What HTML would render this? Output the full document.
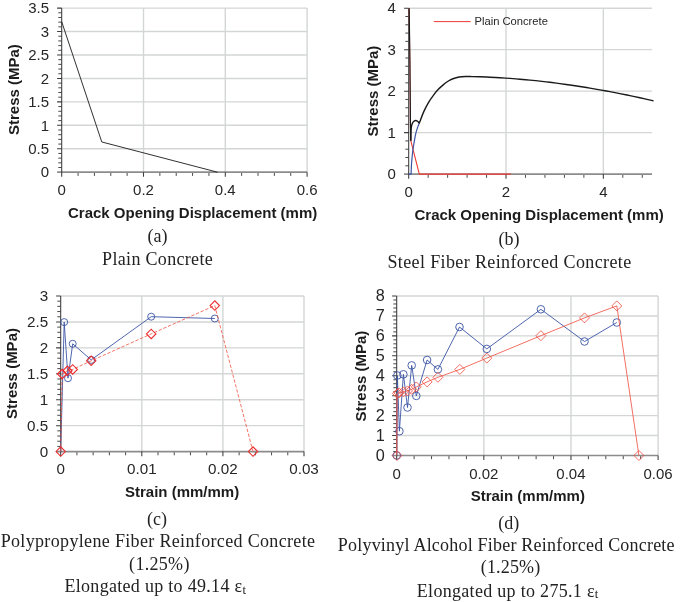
<!DOCTYPE html>
<html lang="en">
<head>
<meta charset="utf-8">
<title>Stress curves of concrete types</title>
<style>
html,body{margin:0;padding:0;background:#fff;}
body{width:685px;height:602px;overflow:hidden;}
svg{display:block;}
.tk{font-family:"Liberation Sans",Arial,Helvetica,sans-serif;fill:#262626;}
.ax{font-family:"Liberation Sans",Arial,Helvetica,sans-serif;font-size:15px;font-weight:bold;fill:#1c1c1c;}
.lg{font-family:"Liberation Sans",Arial,Helvetica,sans-serif;font-size:11.2px;fill:#262626;}
.cap{font-family:"Liberation Serif","Times New Roman",Times,serif;font-size:18px;fill:#222;text-anchor:middle;}
</style>
</head>
<body>
<svg width="685" height="602" viewBox="0 0 685 602">
<rect width="685" height="602" fill="#ffffff"/>

<!-- (a) Plain concrete -->
<path d="M61.7 148.76H307.1M61.7 125.31H307.1M61.7 101.87H307.1M61.7 78.43H307.1M61.7 54.99H307.1M61.7 31.54H307.1M61.7 8.1H307.1M143.5 8.1V172.2M225.3 8.1V172.2M307.1 8.1V172.2" stroke="#d4d6d6" stroke-width="1.4" fill="none"/>
<path d="M58.3 167.51H61.7M58.3 162.82H61.7M58.3 158.13H61.7M58.3 153.45H61.7M58.3 144.07H61.7M58.3 139.38H61.7M58.3 134.69H61.7M58.3 130H61.7M58.3 120.63H61.7M58.3 115.94H61.7M58.3 111.25H61.7M58.3 106.56H61.7M58.3 97.18H61.7M58.3 92.49H61.7M58.3 87.81H61.7M58.3 83.12H61.7M58.3 73.74H61.7M58.3 69.05H61.7M58.3 64.36H61.7M58.3 59.67H61.7M58.3 50.3H61.7M58.3 45.61H61.7M58.3 40.92H61.7M58.3 36.23H61.7M58.3 26.85H61.7M58.3 22.17H61.7M58.3 17.48H61.7M58.3 12.79H61.7M78.06 172.2V175.9M94.42 172.2V175.9M110.78 172.2V175.9M127.14 172.2V175.9M159.86 172.2V175.9M176.22 172.2V175.9M192.58 172.2V175.9M208.94 172.2V175.9M241.66 172.2V175.9M258.02 172.2V175.9M274.38 172.2V175.9M290.74 172.2V175.9" stroke="#4a4a4a" stroke-width="1" fill="none"/>
<path d="M57.1 172.2H307.1" stroke="#8c8c8c" stroke-width="1.7" fill="none"/>
<path d="M61.7 8.1V176.8M57.1 148.76H61.7M57.1 125.31H61.7M57.1 101.87H61.7M57.1 78.43H61.7M57.1 54.99H61.7M57.1 31.54H61.7M57.1 8.1H61.7M61.7 172.2V176.8M143.5 172.2V176.8M225.3 172.2V176.8M307.1 172.2V176.8" stroke="#3c3c3c" stroke-width="1.05" fill="none"/>
<g class="tk" font-size="15" text-anchor="end">
<text x="49.1" y="177.4">0</text>
<text x="49.1" y="153.96">0.5</text>
<text x="49.1" y="130.51">1</text>
<text x="49.1" y="107.07">1.5</text>
<text x="49.1" y="83.63">2</text>
<text x="49.1" y="60.19">2.5</text>
<text x="49.1" y="36.74">3</text>
<text x="49.1" y="13.3">3.5</text>
</g>
<g class="tk" font-size="15" text-anchor="middle">
<text x="61.7" y="194.9">0</text>
<text x="143.5" y="194.9">0.2</text>
<text x="225.3" y="194.9">0.4</text>
<text x="307.1" y="194.9">0.6</text>
</g>
<path d="M61.7 21.7L101.78 141.96L217.53 172.2" stroke="#1a1a1a" stroke-width="0.9" fill="none" stroke-linejoin="round"/>
<text class="ax" x="68" y="218">Crack Opening Displacement (mm)</text>
<text class="ax" transform="translate(18.9 135) rotate(-90)">Stress (MPa)</text>
<text class="cap" x="157.4" y="242">(a)</text>
<text class="cap" x="157.6" y="265.2" letter-spacing="0.32">Plain Concrete</text>
<!-- (b) Steel fiber -->
<path d="M408.7 132.62H652M408.7 91.15H652M408.7 49.67H652M408.7 8.2H652M506.02 8.2V174.1M603.34 8.2V174.1" stroke="#d4d6d6" stroke-width="1.4" fill="none"/>
<path d="M405.3 165.81H408.7M405.3 157.51H408.7M405.3 149.22H408.7M405.3 140.92H408.7M405.3 124.33H408.7M405.3 116.03H408.7M405.3 107.74H408.7M405.3 99.44H408.7M405.3 82.85H408.7M405.3 74.56H408.7M405.3 66.26H408.7M405.3 57.97H408.7M405.3 41.38H408.7M405.3 33.08H408.7M405.3 24.79H408.7M405.3 16.5H408.7M428.16 174.1V177.8M447.63 174.1V177.8M467.09 174.1V177.8M486.56 174.1V177.8M525.48 174.1V177.8M544.95 174.1V177.8M564.41 174.1V177.8M583.88 174.1V177.8M622.8 174.1V177.8M642.27 174.1V177.8" stroke="#4a4a4a" stroke-width="1" fill="none"/>
<path d="M404.1 174.1H652" stroke="#8c8c8c" stroke-width="1.7" fill="none"/>
<path d="M408.7 8.2V178.7M404.1 132.62H408.7M404.1 91.15H408.7M404.1 49.67H408.7M404.1 8.2H408.7M408.7 174.1V178.7M506.02 174.1V178.7M603.34 174.1V178.7" stroke="#3c3c3c" stroke-width="1.05" fill="none"/>
<g class="tk" font-size="15" text-anchor="end">
<text x="395.9" y="179.3">0</text>
<text x="395.9" y="137.82">1</text>
<text x="395.9" y="96.35">2</text>
<text x="395.9" y="54.87">3</text>
<text x="395.9" y="13.4">4</text>
</g>
<g class="tk" font-size="15" text-anchor="middle">
<text x="408.7" y="197.3">0</text>
<text x="506.02" y="197.3">2</text>
<text x="603.34" y="197.3">4</text>
</g>
<path d="M409.1 8.2L409.9 60.2L410.4 126.8L410.8 140.7" stroke="#f03a34" stroke-width="0.8" fill="none"/>
<path d="M410.8 140.7L419.3 174.1L510.9 174.1" stroke="#f03a34" stroke-width="1.1" fill="none" stroke-linejoin="round"/>
<path d="M408.7 174.1L411.1 174.1L411.1 174.1C411.18 172.2 411.37 166.15 411.6 162.7C411.83 159.25 412.23 155.85 412.5 153.4C412.77 150.95 412.87 150.22 413.2 148C413.53 145.78 414.07 142.53 414.5 140.1C414.93 137.67 415.28 135.52 415.8 133.4C416.32 131.28 417.02 129.12 417.6 127.4C418.18 125.68 419.02 123.82 419.3 123.1" stroke="#3b55a5" stroke-width="1.2" fill="none" stroke-linejoin="round"/>
<path d="M409.2 8.2L409.9 60.2L410.5 126.8L410.8 140.7" stroke="#1a1a1a" stroke-width="1.15" fill="none"/>
<path d="M410.8 140.7C410.83 139.28 410.9 134.52 411 132.2C411.1 129.88 411.18 128.25 411.4 126.8C411.62 125.35 411.88 124.43 412.3 123.5C412.72 122.57 413.32 121.7 413.9 121.2C414.48 120.7 415.2 120.5 415.8 120.5C416.4 120.5 416.92 120.77 417.5 121.2C418.08 121.63 419 122.78 419.3 123.1L419.3 123.1C420.07 121.15 422.35 114.87 423.9 111.4C425.45 107.93 427.02 104.98 428.6 102.3C430.18 99.62 431.82 97.42 433.4 95.3C434.98 93.18 436.52 91.3 438.1 89.6C439.68 87.9 441.32 86.45 442.9 85.1C444.48 83.75 446.03 82.52 447.6 81.5C449.17 80.48 450.72 79.67 452.3 79C453.88 78.33 455.52 77.87 457.1 77.5C458.68 77.12 460.38 76.92 461.8 76.75C463.22 76.58 463.92 76.52 465.6 76.49C467.28 76.46 469.52 76.54 471.9 76.59C474.28 76.65 476.9 76.71 479.9 76.81C482.9 76.91 486.57 77.05 489.9 77.2C493.23 77.36 496.57 77.53 499.9 77.73C503.23 77.93 506.57 78.15 509.9 78.39C513.23 78.63 516.57 78.89 519.9 79.18C523.23 79.46 526.57 79.77 529.9 80.09C533.23 80.42 536.57 80.77 539.9 81.13C543.23 81.5 546.57 81.89 549.9 82.3C553.23 82.7 556.57 83.13 559.9 83.58C563.23 84.02 566.57 84.49 569.9 84.97C573.23 85.46 576.57 85.96 579.9 86.49C583.23 87.01 586.57 87.55 589.9 88.11C593.23 88.67 596.57 89.24 599.9 89.84C603.23 90.43 606.57 91.05 609.9 91.68C613.23 92.31 616.57 92.96 619.9 93.62C623.23 94.28 626.57 94.96 629.9 95.66C633.23 96.36 637.07 97.19 639.9 97.8C642.73 98.42 644.62 98.84 646.9 99.36C649.18 99.87 652.48 100.64 653.6 100.89" stroke="#1a1a1a" stroke-width="1.4" fill="none" stroke-linejoin="round"/>
<path d="M433.8 21.6H470.7" stroke="#f03a34" stroke-width="1"/>
<text class="lg" x="474.5" y="25">Plain Concrete</text>
<text class="ax" x="414.5" y="220">Crack Opening Displacement (mm)</text>
<text class="ax" transform="translate(378.2 136.5) rotate(-90)">Stress (MPa)</text>
<text class="cap" x="509" y="244.7">(b)</text>
<text class="cap" x="509.5" y="267.7" letter-spacing="0.38">Steel Fiber Reinforced Concrete</text>
<!-- (c) Polypropylene -->
<path d="M60.7 425.67H304M60.7 399.73H304M60.7 373.8H304M60.7 347.87H304M60.7 321.93H304M60.7 296H304M141.8 296V451.6M222.9 296V451.6M304 296V451.6" stroke="#d4d6d6" stroke-width="1.4" fill="none"/>
<path d="M57.3 446.41H60.7M57.3 441.23H60.7M57.3 436.04H60.7M57.3 430.85H60.7M57.3 420.48H60.7M57.3 415.29H60.7M57.3 410.11H60.7M57.3 404.92H60.7M57.3 394.55H60.7M57.3 389.36H60.7M57.3 384.17H60.7M57.3 378.99H60.7M57.3 368.61H60.7M57.3 363.43H60.7M57.3 358.24H60.7M57.3 353.05H60.7M57.3 342.68H60.7M57.3 337.49H60.7M57.3 332.31H60.7M57.3 327.12H60.7M57.3 316.75H60.7M57.3 311.56H60.7M57.3 306.37H60.7M57.3 301.19H60.7M76.92 451.6V455.3M93.14 451.6V455.3M109.36 451.6V455.3M125.58 451.6V455.3M158.02 451.6V455.3M174.24 451.6V455.3M190.46 451.6V455.3M206.68 451.6V455.3M239.12 451.6V455.3M255.34 451.6V455.3M271.56 451.6V455.3M287.78 451.6V455.3" stroke="#4a4a4a" stroke-width="1" fill="none"/>
<path d="M56.1 451.6H304" stroke="#8c8c8c" stroke-width="1.7" fill="none"/>
<path d="M60.7 296V456.2M56.1 425.67H60.7M56.1 399.73H60.7M56.1 373.8H60.7M56.1 347.87H60.7M56.1 321.93H60.7M56.1 296H60.7M60.7 451.6V456.2M141.8 451.6V456.2M222.9 451.6V456.2M304 451.6V456.2" stroke="#3c3c3c" stroke-width="1.05" fill="none"/>
<g class="tk" font-size="15.2" text-anchor="end">
<text x="48.1" y="456.8">0</text>
<text x="48.1" y="430.87">0.5</text>
<text x="48.1" y="404.93">1</text>
<text x="48.1" y="379">1.5</text>
<text x="48.1" y="353.07">2</text>
<text x="48.1" y="327.13">2.5</text>
<text x="48.1" y="301.2">3</text>
</g>
<g class="tk" font-size="15.2" text-anchor="middle">
<text x="60.7" y="473.7">0</text>
<text x="141.8" y="473.7">0.01</text>
<text x="222.9" y="473.7">0.02</text>
<text x="304" y="473.7">0.03</text>
</g>
<g stroke="#3b55a5" stroke-width="0.9" fill="none"><path d="M60.7 451.6L64.2 322.1L68 378.2L72.7 343.8L91.2 359.9L151.2 316.7L214.8 318.5"/><circle cx="64.2" cy="322.1" r="3.5"/><circle cx="68" cy="378.2" r="3.5"/><circle cx="72.7" cy="343.8" r="3.5"/><circle cx="91.2" cy="359.9" r="3.5"/><circle cx="151.2" cy="316.7" r="3.5"/><circle cx="214.8" cy="318.5" r="3.5"/></g>
<path d="M60.7 451.6L62.1 374L67.4 370.8L72.7 369.4L91.2 360.8L151.2 333.9L214.8 305.6L253 451.6" stroke="#f0523f" stroke-width="0.8" stroke-dasharray="3.4 1.7" fill="none"/>
<g stroke="#ea2c2e" stroke-width="1.1" fill="none"><path d="M56 451.6L60.7 446.9L65.4 451.6L60.7 456.3Z"/><path d="M57.4 374L62.1 369.3L66.8 374L62.1 378.7Z"/><path d="M62.7 370.8L67.4 366.1L72.1 370.8L67.4 375.5Z"/><path d="M68 369.4L72.7 364.7L77.4 369.4L72.7 374.1Z"/><path d="M86.5 360.8L91.2 356.1L95.9 360.8L91.2 365.5Z"/><path d="M146.5 333.9L151.2 329.2L155.9 333.9L151.2 338.6Z"/><path d="M210.1 305.6L214.8 300.9L219.5 305.6L214.8 310.3Z"/><path d="M248.3 451.6L253 446.9L257.7 451.6L253 456.3Z"/></g>
<text class="ax" x="125" y="497">Strain (mm/mm)</text>
<text class="ax" transform="translate(17.3 418.9) rotate(-90)">Stress (MPa)</text>
<text class="cap" x="156.9" y="525">(c)</text>
<text class="cap" x="158" y="547" letter-spacing="0.34">Polypropylene Fiber Reinforced Concrete</text>
<text class="cap" x="159.4" y="569.6" letter-spacing="0.3">(1.25%)</text>
<text class="cap" x="155.3" y="592.3" letter-spacing="0.3">Elongated up to 49.14 ε<tspan font-size="12.5" dy="1.5">t</tspan></text>
<!-- (d) PVA -->
<path d="M396.7 435.56H658.1M396.7 415.62H658.1M396.7 395.69H658.1M396.7 375.75H658.1M396.7 355.81H658.1M396.7 335.88H658.1M396.7 315.94H658.1M396.7 296H658.1M483.83 296V455.5M570.97 296V455.5M658.1 296V455.5" stroke="#d4d6d6" stroke-width="1.4" fill="none"/>
<path d="M393.3 451.51H396.7M393.3 447.52H396.7M393.3 443.54H396.7M393.3 439.55H396.7M393.3 431.57H396.7M393.3 427.59H396.7M393.3 423.6H396.7M393.3 419.61H396.7M393.3 411.64H396.7M393.3 407.65H396.7M393.3 403.66H396.7M393.3 399.68H396.7M393.3 391.7H396.7M393.3 387.71H396.7M393.3 383.73H396.7M393.3 379.74H396.7M393.3 371.76H396.7M393.3 367.77H396.7M393.3 363.79H396.7M393.3 359.8H396.7M393.3 351.82H396.7M393.3 347.84H396.7M393.3 343.85H396.7M393.3 339.86H396.7M393.3 331.89H396.7M393.3 327.9H396.7M393.3 323.91H396.7M393.3 319.93H396.7M393.3 311.95H396.7M393.3 307.96H396.7M393.3 303.98H396.7M393.3 299.99H396.7M414.13 455.5V459.2M431.55 455.5V459.2M448.98 455.5V459.2M466.41 455.5V459.2M501.26 455.5V459.2M518.69 455.5V459.2M536.11 455.5V459.2M553.54 455.5V459.2M588.39 455.5V459.2M605.82 455.5V459.2M623.25 455.5V459.2M640.67 455.5V459.2" stroke="#4a4a4a" stroke-width="1" fill="none"/>
<path d="M392.1 455.5H658.1" stroke="#8c8c8c" stroke-width="1.7" fill="none"/>
<path d="M396.7 296V460.1M392.1 435.56H396.7M392.1 415.62H396.7M392.1 395.69H396.7M392.1 375.75H396.7M392.1 355.81H396.7M392.1 335.88H396.7M392.1 315.94H396.7M392.1 296H396.7M396.7 455.5V460.1M483.83 455.5V460.1M570.97 455.5V460.1M658.1 455.5V460.1" stroke="#3c3c3c" stroke-width="1.05" fill="none"/>
<g class="tk" font-size="16.2" text-anchor="end">
<text x="384.8" y="460.7">0</text>
<text x="384.8" y="440.76">1</text>
<text x="384.8" y="420.82">2</text>
<text x="384.8" y="400.89">3</text>
<text x="384.8" y="380.95">4</text>
<text x="384.8" y="361.01">5</text>
<text x="384.8" y="341.07">6</text>
<text x="384.8" y="321.14">7</text>
<text x="384.8" y="301.2">8</text>
</g>
<g class="tk" font-size="15" text-anchor="middle">
<text x="396.7" y="478.7">0</text>
<text x="483.83" y="478.7">0.02</text>
<text x="570.97" y="478.7">0.04</text>
<text x="658.1" y="478.7">0.06</text>
</g>
<g stroke="#3b55a5" stroke-width="0.9" fill="none"><path d="M396.75 455.5L397.35 375.5L399.4 431.2L403.4 374.3L407.5 407.5L411.7 365.4L416.3 395.9L427.1 360L437.9 369.4L459.5 327L486.8 348.9L540.9 309.3L584.5 341.5L616.8 322.5"/><circle cx="396.75" cy="455.5" r="3.8"/><circle cx="397.35" cy="375.5" r="3.8"/><circle cx="399.4" cy="431.2" r="3.8"/><circle cx="403.4" cy="374.3" r="3.8"/><circle cx="407.5" cy="407.5" r="3.8"/><circle cx="411.7" cy="365.4" r="3.8"/><circle cx="416.3" cy="395.9" r="3.8"/><circle cx="427.1" cy="360" r="3.8"/><circle cx="437.9" cy="369.4" r="3.8"/><circle cx="459.5" cy="327" r="3.8"/><circle cx="486.8" cy="348.9" r="3.8"/><circle cx="540.9" cy="309.3" r="3.8"/><circle cx="584.5" cy="341.5" r="3.8"/><circle cx="616.8" cy="322.5" r="3.8"/></g>
<path d="M396.75 455.5L397 393.5" stroke="#ee5a50" stroke-width="1.05" fill="none"/>
<g stroke="#f04a3c" stroke-width="0.8" fill="none"><path d="M397.4 393.5L399 392.9L403.4 391.9L407.5 390.9L411.7 389.3L416.3 386.9L427.1 381.9L437.9 377.3L459.8 369.4L486.8 358.1L540.9 335.7L584.5 317.9L616.8 305.9L638.9 455.5"/><path d="M392 455.5L397 450.5L402 455.5L397 460.5Z"/><path d="M392.4 393.5L397.4 388.5L402.4 393.5L397.4 398.5Z"/><path d="M394 392.9L399 387.9L404 392.9L399 397.9Z"/><path d="M398.4 391.9L403.4 386.9L408.4 391.9L403.4 396.9Z"/><path d="M402.5 390.9L407.5 385.9L412.5 390.9L407.5 395.9Z"/><path d="M406.7 389.3L411.7 384.3L416.7 389.3L411.7 394.3Z"/><path d="M411.3 386.9L416.3 381.9L421.3 386.9L416.3 391.9Z"/><path d="M422.1 381.9L427.1 376.9L432.1 381.9L427.1 386.9Z"/><path d="M432.9 377.3L437.9 372.3L442.9 377.3L437.9 382.3Z"/><path d="M454.8 369.4L459.8 364.4L464.8 369.4L459.8 374.4Z"/><path d="M481.8 358.1L486.8 353.1L491.8 358.1L486.8 363.1Z"/><path d="M535.9 335.7L540.9 330.7L545.9 335.7L540.9 340.7Z"/><path d="M579.5 317.9L584.5 312.9L589.5 317.9L584.5 322.9Z"/><path d="M611.8 305.9L616.8 300.9L621.8 305.9L616.8 310.9Z"/><path d="M633.9 455.5L638.9 450.5L643.9 455.5L638.9 460.5Z"/></g>
<text class="ax" x="470.7" y="500.6">Strain (mm/mm)</text>
<text class="ax" font-size="15.3" transform="translate(365.8 421.5) rotate(-90)">Stress (MPa)</text>
<text class="cap" x="508.8" y="528.5">(d)</text>
<text class="cap" x="506.3" y="550.5" letter-spacing="0.21">Polyvinyl Alcohol Fiber Reinforced Concrete</text>
<text class="cap" x="510.6" y="572.8" letter-spacing="0.15">(1.25%)</text>
<text class="cap" x="507.7" y="596.5" letter-spacing="0.3">Elongated up to 275.1 ε<tspan font-size="12.5" dy="1.5">t</tspan></text>
</svg>
</body>
</html>
